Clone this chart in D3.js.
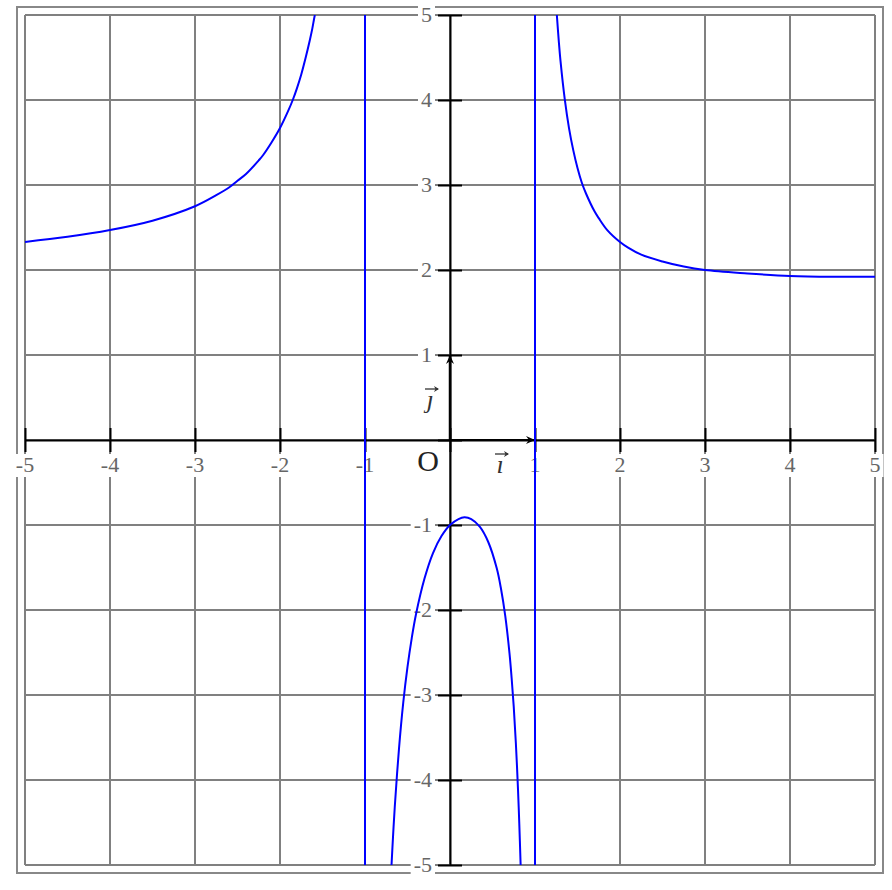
<!DOCTYPE html>
<html>
<head>
<meta charset="utf-8">
<script src="https://cdn.jsdelivr.net/npm/d3@7"></script>
<style>
  body { margin: 0; background: #fff; }
  svg { display: block; }
</style>
</head>
<body>
<script>
// grid / tick values on both axes
const tickValues = [-5, -4, -3, -2, -1, 0, 1, 2, 3, 4, 5];
const labelValues = [-5, -4, -3, -2, -1, 1, 2, 3, 4, 5];

// vertical asymptotes drawn in blue
const asymptotes = [-1, 1];

const leftBranch = [
  [-5, 2.33], [-4.5, 2.39], [-4, 2.47], [-3.5, 2.58], [-3, 2.75],
  [-2.75, 2.88], [-2.6, 2.97], [-2.5, 3.05], [-2.4, 3.13], [-2.25, 3.29],
  [-2.2, 3.35], [-2.1, 3.5], [-2, 3.67], [-1.9, 3.88], [-1.85, 4.0],
  [-1.8, 4.14], [-1.75, 4.3], [-1.7, 4.49], [-1.65, 4.7], [-1.62, 4.84],
  [-1.6, 4.95], [-1.59, 5.0]
];
const middleBranch = [
  [-0.688, -5.0], [-0.67, -4.66], [-0.65, -4.32], [-0.6, -3.63], [-0.55, -3.09],
  [-0.5, -2.67], [-0.45, -2.33], [-0.4, -2.05], [-0.3, -1.63], [-0.2, -1.33],
  [-0.1, -1.13], [0, -1.0], [0.1, -0.93], [0.17, -0.91], [0.25, -0.93],
  [0.35, -1.02], [0.45, -1.2], [0.55, -1.51], [0.6, -1.75], [0.65, -2.07],
  [0.7, -2.51], [0.725, -2.8], [0.75, -3.14], [0.775, -3.57], [0.8, -4.11],
  [0.815, -4.51], [0.831, -5.0]
];
const rightBranch = [
  [1.257, 5.0], [1.28, 4.69], [1.3, 4.46], [1.35, 4.01], [1.4, 3.67],
  [1.45, 3.41], [1.5, 3.2], [1.55, 3.03], [1.6, 2.9], [1.7, 2.69],
  [1.75, 2.61], [1.85, 2.47], [2, 2.33], [2.1, 2.26], [2.25, 2.18],
  [2.5, 2.1], [2.75, 2.04], [3, 2.0], [3.5, 1.96], [4, 1.93],
  [4.5, 1.92], [5, 1.92]
];

const width = 892,
      height = 890;

const x = d3.scaleLinear().domain([-5, 5]).range([25, 875]);
const y = d3.scaleLinear().domain([-5, 5]).range([865, 15]);

const svg = d3.select("body").append("svg")
  .attr("width", width)
  .attr("height", height);

svg.append("rect")
  .attr("width", width).attr("height", height)
  .attr("fill", "#fff");

// outer frame
svg.append("rect")
  .attr("x", 17).attr("y", 7)
  .attr("width", 866).attr("height", 866)
  .attr("fill", "none")
  .attr("stroke", "#888")
  .attr("stroke-width", 2);

const defs = svg.append("defs");
defs.append("clipPath").attr("id", "plot")
  .append("rect")
  .attr("x", x(-5)).attr("y", y(5))
  .attr("width", x(5) - x(-5)).attr("height", y(-5) - y(5));

defs.append("marker")
  .attr("id", "arrow")
  .attr("viewBox", "-10 -5 12 10")
  .attr("refX", 0).attr("refY", 0)
  .attr("markerWidth", 12).attr("markerHeight", 10)
  .attr("markerUnits", "userSpaceOnUse")
  .attr("orient", "auto")
  .append("path")
  .attr("d", "M0,0 L-9,-4 L-6,0 L-9,4 Z")
  .attr("fill", "#000");

// grid
const grid = svg.append("g")
  .attr("stroke", "#808080")
  .attr("stroke-width", 2);

grid.selectAll(".gx").data(tickValues).join("line")
  .attr("class", "gx")
  .attr("x1", d => x(d)).attr("x2", d => x(d))
  .attr("y1", y(5)).attr("y2", y(-5));

grid.selectAll(".gy").data(tickValues).join("line")
  .attr("class", "gy")
  .attr("y1", d => y(d)).attr("y2", d => y(d))
  .attr("x1", x(-5)).attr("x2", x(5));

const labelFont = "'Liberation Serif', 'DejaVu Serif', serif";

// tick labels with white boxes that cut the grid
function boxedLabel(g, tx, ty, txt, anchor) {
  const t = g.append("text")
    .attr("x", tx).attr("y", ty)
    .attr("text-anchor", anchor)
    .attr("font-family", labelFont)
    .attr("font-size", 22)
    .attr("fill", "#666")
    .text(txt);
  const b = t.node().getBBox();
  g.insert("rect", "text")
    .attr("x", b.x - 3).attr("y", b.y + 2)
    .attr("width", b.width + 6).attr("height", b.height - 2)
    .attr("fill", "#fff");
}

const labels = svg.append("g");
labelValues.forEach(v => boxedLabel(labels, x(v), y(0) + 32, `${v}`, "middle"));
labelValues.forEach(v => boxedLabel(labels, x(0) - 18, y(v) + 7, `${v}`, "end"));

// axes
const xAxis = svg.append("g")
  .attr("transform", `translate(0,${y(0)})`)
  .call(d3.axisBottom(x).tickValues(tickValues).tickSizeInner(12).tickSizeOuter(0).tickFormat(""));

const yAxis = svg.append("g")
  .attr("transform", `translate(${x(0)},0)`)
  .call(d3.axisLeft(y).tickValues(tickValues).tickSizeInner(12).tickSizeOuter(0).tickFormat(""));

xAxis.selectAll(".tick line").attr("y1", -12);
yAxis.selectAll(".tick line").attr("x1", 12);
svg.selectAll(".domain, .tick line")
  .attr("stroke", "#000")
  .attr("stroke-width", 2);

// unit vectors
svg.append("line")
  .attr("x1", x(0)).attr("y1", y(0))
  .attr("x2", x(1)).attr("y2", y(0))
  .attr("stroke", "#000").attr("stroke-width", 2)
  .attr("marker-end", "url(#arrow)");
svg.append("line")
  .attr("x1", x(0)).attr("y1", y(0))
  .attr("x2", x(0)).attr("y2", y(1))
  .attr("stroke", "#000").attr("stroke-width", 2.5)
  .attr("marker-end", "url(#arrow)");

svg.append("text")
  .attr("x", x(0) - 22).attr("y", y(0) + 31)
  .attr("text-anchor", "middle")
  .attr("font-family", labelFont)
  .attr("font-size", 30)
  .attr("fill", "#222")
  .text("O");

function vecLabel(cx, base, letter) {
  svg.append("text")
    .attr("x", cx).attr("y", base)
    .attr("text-anchor", "middle")
    .attr("font-family", labelFont)
    .attr("font-style", "italic")
    .attr("font-size", 26)
    .attr("fill", "#333")
    .text(letter);
  svg.append("path")
    .attr("d", `M${cx - 5},${base - 19} L${cx + 8},${base - 19}`)
    .attr("stroke", "#333").attr("stroke-width", 1.3);
  svg.append("path")
    .attr("d", `M${cx + 9},${base - 19} L${cx + 4},${base - 22} L${cx + 5.5},${base - 19} L${cx + 4},${base - 16} Z`)
    .attr("fill", "#333");
}
vecLabel(x(0) + 50, y(0) + 33, "\u0131");
vecLabel(x(0) - 20, y(0) - 32, "\u0237");

// curve
const curveGroup = svg.append("g").attr("clip-path", "url(#plot)");

curveGroup.selectAll(".asym").data(asymptotes).join("line")
  .attr("class", "asym")
  .attr("x1", d => x(d)).attr("x2", d => x(d))
  .attr("y1", y(5)).attr("y2", y(-5))
  .attr("stroke", "#0000ff")
  .attr("stroke-width", 2);

const line = d3.line()
  .x(d => x(d[0]))
  .y(d => y(d[1]))
  .curve(d3.curveCatmullRom.alpha(0.5));

curveGroup.selectAll(".branch").data([leftBranch, middleBranch, rightBranch]).join("path")
  .attr("class", "branch")
  .attr("d", line)
  .attr("fill", "none")
  .attr("stroke", "#0000ff")
  .attr("stroke-width", 2);
</script>
</body>
</html>
